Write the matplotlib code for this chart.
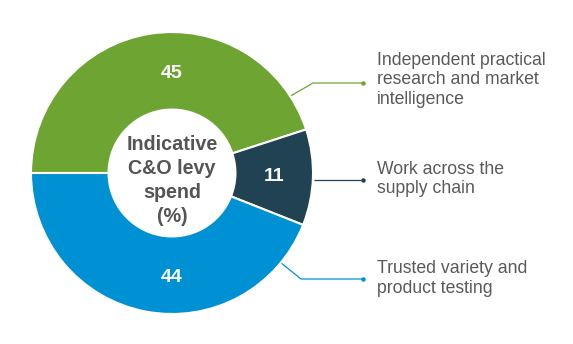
import numpy as np
import matplotlib
matplotlib.use("Agg")
import matplotlib.pyplot as plt

plt.rcParams['font.family'] = ['Liberation Sans', 'DejaVu Sans']

categories = ["Independent practical\nresearch and market\nintelligence",
              "Work across the\nsupply chain",
              "Trusted variety and\nproduct testing"]
values = [45, 11, 44]
value_labels = ["45", "11", "44"]
colors = ["#6ea532", "#204252", "#0091d4"]

W, H = 573, 344
fig = plt.figure(figsize=(W / 100, H / 100), dpi=100)
ax = fig.add_axes([0, 0, 1, 1])

cx, cy = 172, 171
R = 141
width = 0.55

wedges, _ = ax.pie(values, colors=colors, startangle=180, counterclock=False,
                   radius=R, center=(cx, cy),
                   wedgeprops=dict(width=R * width, edgecolor="white", linewidth=1.5))
ax.set_xlim(0, W)
ax.set_ylim(0, H)
ax.set_aspect("equal")
ax.axis("off")

# value labels inside the ring
label_angles = [90, -1.7, -90]
label_radii = [100, 102, 104]
for lab, ang, r_lab in zip(value_labels, label_angles, label_radii):
    a = np.deg2rad(ang)
    ax.text(cx + r_lab * np.cos(a), cy + r_lab * np.sin(a), lab,
            color="white", fontsize=14, fontweight="bold",
            ha="center", va="center")

# centre text
ax.text(cx, cy - 7.5, "Indicative\nC&O levy\nspend\n(%)", ha="center", va="center",
        fontsize=14.2, fontweight="bold", color="#555555", linespacing=1.32)

# leader lines and category texts
start_angles = [33, -2.9, -39.5]
elbow_ys = [H - 83, H - 180, H - 279]
elbow_x = [313, 313, 301]
end_x = 363
text_x = 377
text_ys = [H - 80, H - 179, H - 278.5]
for cat, col, sa, ey, ex, ty in zip(categories, colors, start_angles, elbow_ys, elbow_x, text_ys):
    a = np.deg2rad(sa)
    sx, sy = cx + (R + 1) * np.cos(a), cy + (R + 1) * np.sin(a)
    if abs(sy - ey) < 2:
        xs, ys = [sx, end_x], [ey, ey]
    else:
        xs, ys = [sx, ex, end_x], [sy, ey, ey]
    ax.plot(xs, ys, color=col, linewidth=0.9, solid_capstyle="butt")
    ax.plot([end_x], [ey], marker="o", markersize=2.2, color=col)
    ax.text(text_x, ty, cat, ha="left", va="center", fontsize=12.7,
            color="#5a5a5a", linespacing=1.17)

fig.savefig("out.png", dpi=100)
